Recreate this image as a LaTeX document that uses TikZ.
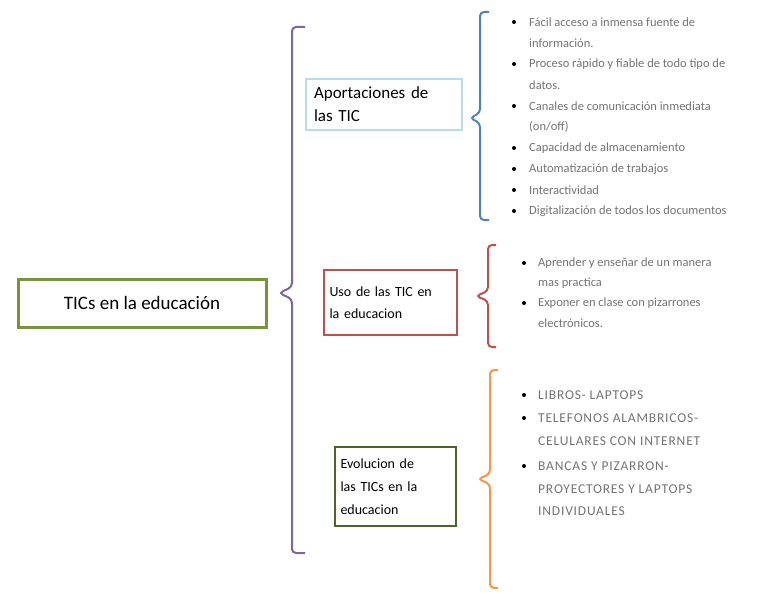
\documentclass[tikz,border=0pt]{standalone}
\usepackage{fontspec}
\setmainfont{Carlito}
\begin{document}
\begin{tikzpicture}[x=1pt,y=-1pt,
  br/.style={line width=2pt,rounded corners=4pt},
  itm/.style={anchor=west,text=gray!90!black,inner sep=0pt},
  dot/.style={circle,fill=black,inner sep=0pt,minimum size=4pt}]
\useasboundingbox (0,0) rectangle (768,594);
\definecolor{purp}{HTML}{8064A2}\definecolor{blu}{HTML}{4F81BD}
\definecolor{rd}{HTML}{C0504D}\definecolor{orng}{HTML}{F79646}
% brackets
\draw[br,purp] (305,27) -- (292,27) -- (292,287) -- (279,293) -- (292,299) -- (292,553) -- (305,553);
\draw[br,blu] (489,12) -- (480,12) -- (480,113) -- (470,118) -- (480,123) -- (480,220) -- (489,220);
\draw[br,rd] (496,245) -- (488,245) -- (488,291) -- (476,296) -- (488,301) -- (488,347) -- (496,347);
\draw[br,orng] (498,370) -- (490,370) -- (490,474) -- (478,479) -- (490,484) -- (490,588) -- (498,588);
% boxes
\node[draw={rgb,255:red,119;green,147;blue,60},line width=3pt,minimum width=248pt,minimum height=48pt,font=\fontsize{19}{22}\selectfont] (main) at (142,303) {TICs en la educación};
\node[draw={rgb,255:red,183;green,221;blue,232},line width=1.5pt,minimum width=156pt,minimum height=51pt,align=left,text width=140pt,font=\fontsize{17}{23}\selectfont] (a) at (384,104.5) {Aportaciones de\\las TIC};
\node[draw=rd,line width=1.3pt,minimum width=133pt,minimum height=65pt,align=left,text width=122pt,font=\fontsize{14}{22}\selectfont] (u) at (390.5,302.5) {Uso de las TIC en\\la educacion};
\node[draw={rgb,255:red,79;green,98;blue,40},line width=1.5pt,minimum width=121pt,minimum height=79pt,align=left,text width=110pt,font=\fontsize{14}{23}\selectfont] (e) at (395.5,486.5) {Evolucion de\\las TICs en la\\educacion};
% list 1
\begin{scope}[every node/.append style={font=\fontsize{12.5}{14}\selectfont}]
\foreach \y/\t in {22/Fácil acceso a inmensa fuente de,43/información.,64/Proceso rápido y fiable de todo tipo de,85/datos.,106/Canales de comunicación inmediata,127/{(on/off)},148/Capacidad de almacenamiento,169/Automatización de trabajos,190/Interactividad,211/Digitalización de todos los documentos}
  \node[itm] (l1-\y) at (529,\y) {\t};
\foreach \y in {22,64,106,148,169,190,211} \node[dot] (d1-\y) at (514,\y) {};
\foreach \y/\t in {263/Aprender y enseñar de un manera,283/mas practica,303/Exponer en clase con pizarrones,323/electrónicos.}
  \node[itm] (l2-\y) at (538,\y) {\t};
\foreach \y in {263,303} \node[dot] (d2-\y) at (524,\y) {};
\end{scope}
\begin{scope}[every node/.append style={font=\fontsize{13.5}{15}\selectfont\addfontfeatures{LetterSpace=6}}]
\foreach \y/\t in {395/LIBROS- LAPTOPS,418/TELEFONOS ALAMBRICOS-,441/CELULARES CON INTERNET,466/BANCAS Y PIZARRON-,489/PROYECTORES Y LAPTOPS,511/INDIVIDUALES}
  \node[itm] (l3-\y) at (538,\y) {\t};
\foreach \y in {395,418,466} \node[dot] (d3-\y) at (524,\y) {};
\end{scope}
\end{tikzpicture}
\end{document}
